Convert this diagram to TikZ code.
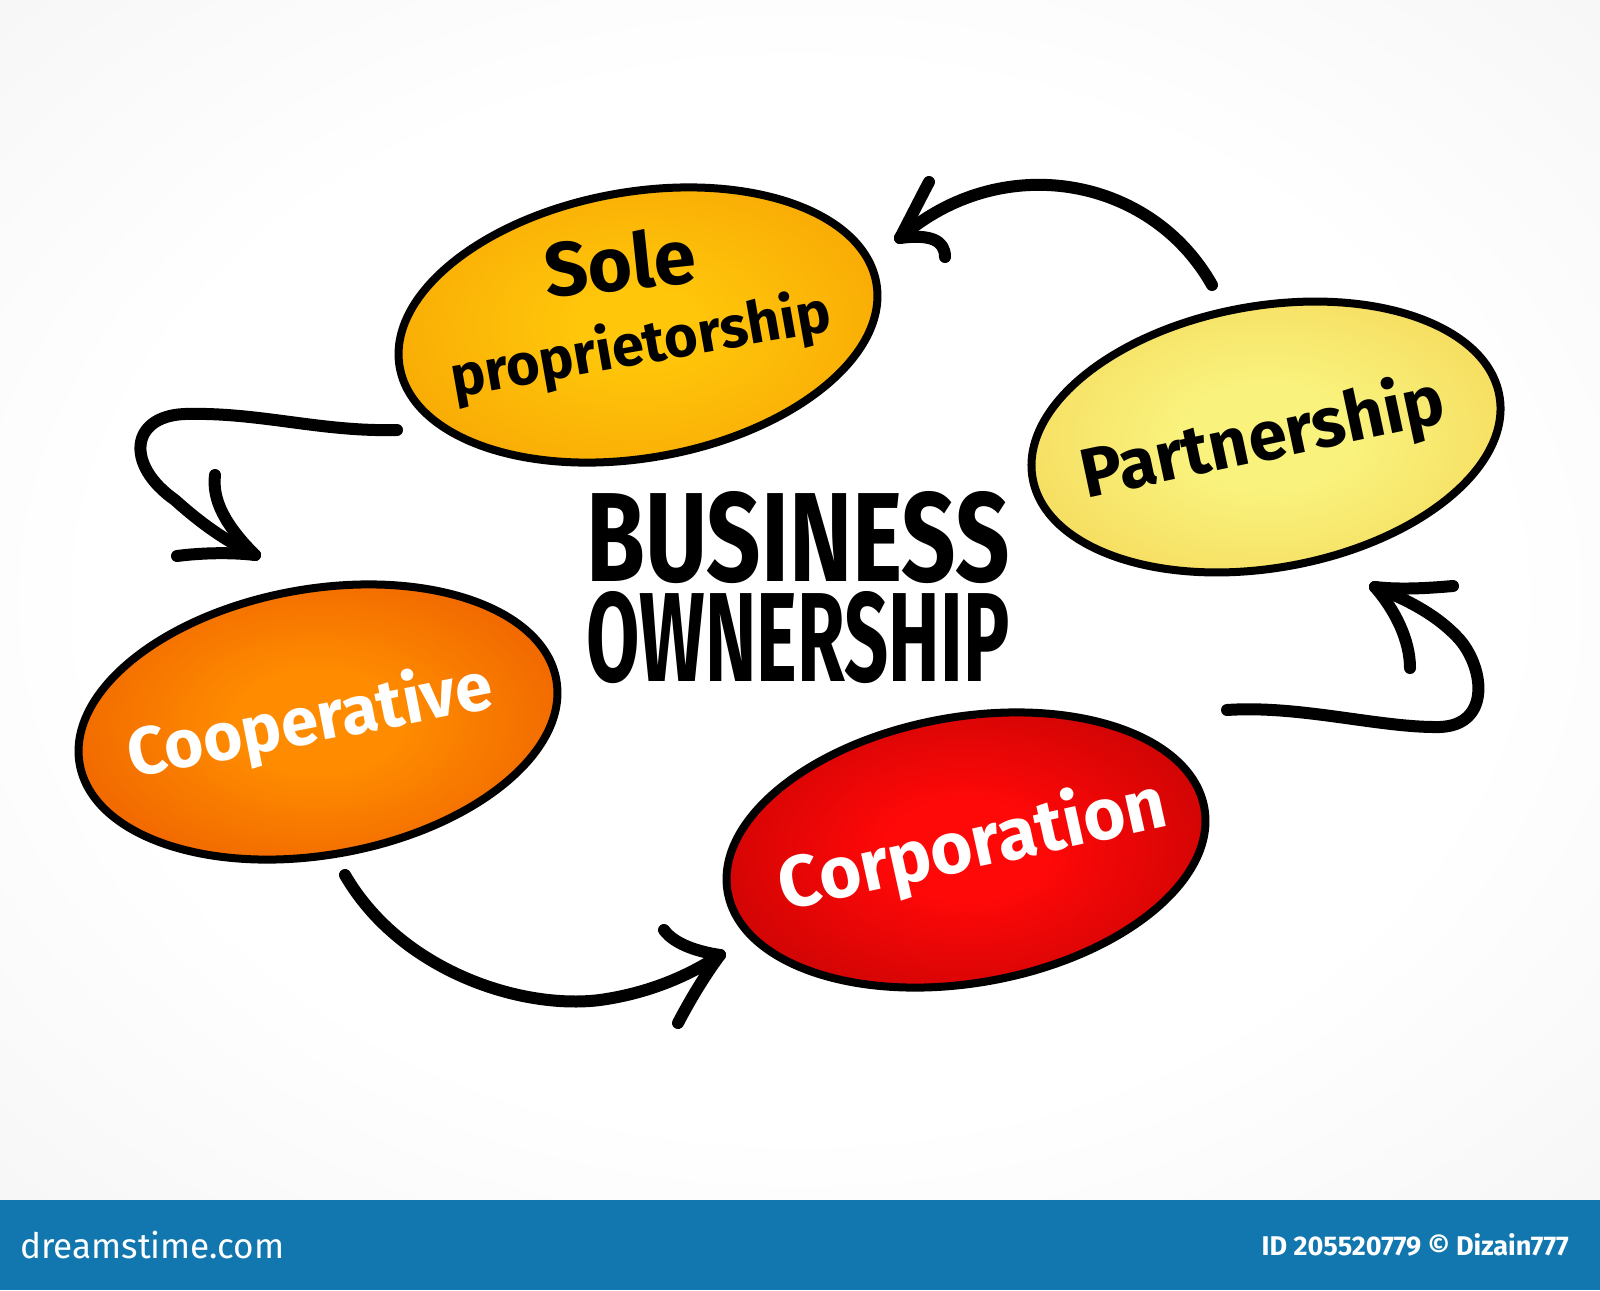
\documentclass[tikz,border=0pt]{standalone}
\usepackage{fontspec}
\setmainfont{Fira Sans}
\usetikzlibrary{shapes.geometric}
\definecolor{bgedge}{HTML}{D2D2D2}
\definecolor{barblue}{HTML}{1177AE}
\definecolor{soleIn}{HTML}{FFC60A}
\definecolor{soleOut}{HTML}{F39200}
\definecolor{partIn}{HTML}{F9F37E}
\definecolor{partOut}{HTML}{F3C640}
\definecolor{coopIn}{HTML}{FF8C00}
\definecolor{coopOut}{HTML}{E03E00}
\definecolor{corpIn}{HTML}{FF0808}
\definecolor{corpOut}{HTML}{9A0000}
\pgfdeclareradialshading{bgshade}{\pgfpoint{0bp}{0bp}}{color(0bp)=(white); color(22bp)=(white); color(95bp)=(bgedge); color(100bp)=(bgedge)}
\pgfdeclareradialshading{soleshade}{\pgfpoint{0bp}{0bp}}{color(0bp)=(soleIn); color(6bp)=(soleIn); color(45bp)=(soleOut); color(50bp)=(soleOut)}
\pgfdeclareradialshading{partshade}{\pgfpoint{0bp}{0bp}}{color(0bp)=(partIn); color(8bp)=(partIn); color(46bp)=(partOut); color(50bp)=(partOut)}
\pgfdeclareradialshading{coopshade}{\pgfpoint{0bp}{0bp}}{color(0bp)=(coopIn); color(8bp)=(coopIn); color(46bp)=(coopOut); color(50bp)=(coopOut)}
\pgfdeclareradialshading{corpshade}{\pgfpoint{0bp}{0bp}}{color(0bp)=(corpIn); color(8bp)=(corpIn); color(46bp)=(corpOut); color(50bp)=(corpOut)}
\tikzset{
  blob/.style={ellipse, draw=black, line width=8pt, minimum width=484pt, minimum height=266pt, inner sep=0pt},
  txt/.style={inner sep=0pt, font=\bfseries},
  arrowline/.style={line width=12pt, line cap=round, line join=round},
}
\begin{document}
\begin{tikzpicture}[x=1pt, y=-1pt]
\useasboundingbox (0,0) rectangle (1600,1290);
\shade[shading=bgshade] (0,0) rectangle (1600,1200);
\fill[barblue] (0,1200) rectangle (1600,1290);

% ellipses
\node[blob, rotate=10, shading=soleshade] (sole) at (638,325) {};
\node[blob, rotate=10, minimum width=474pt, minimum height=262pt, shading=partshade] (part) at (1266,437) {};
\node[blob, rotate=10, shading=coopshade] (coop) at (318,722) {};
\node[blob, rotate=10, shading=corpshade] (corp) at (966,850) {};

% texts
\node[txt, rotate=6] (soleA) at (620,262) {\resizebox{152pt}{!}{Sole}};
\node[txt, rotate=10] (soleB) at (641,347) {\resizebox{385pt}{!}{proprietorship}};
\node[txt, rotate=12] (partT) at (1263,440) {\resizebox{370pt}{!}{Partnership}};
\node[txt, rotate=11, text=white] (coopT) at (310,723) {\resizebox{370pt}{!}{Cooperative}};
\node[txt, rotate=12.5, text=white] (corpT) at (973,847) {\resizebox{395pt}{!}{Corporation}};

\node[txt] (title1) at (798,538) {\resizebox{423pt}{90pt}{BUSINESS}};
\node[txt] (title2) at (798,638) {\resizebox{423pt}{90pt}{OWNERSHIP}};

% arrow end points
\coordinate (a1s) at (1212,285);
\coordinate (a1t) at (900,238);
\coordinate (a2s) at (397,430);
\coordinate (a2t) at (255,555);
\coordinate (a3s) at (345,875);
\coordinate (a3t) at (720,955);
\coordinate (a4s) at (1227,710);
\coordinate (a4t) at (1375,587);

% arrow 1: partnership -> sole
\draw[arrowline] (a1s) .. controls (1150,175) and (1000,150) .. (a1t);
\draw[arrowline] (a1t) .. controls (912,215) and (922,195) .. (929,182);
\draw[arrowline] (a1t) .. controls (930,234) and (945,240) .. (945,257);

% arrow 2: sole -> cooperative
\draw[arrowline] (a2s) .. controls (320,432) and (260,412) .. (185,414)
  .. controls (130,416) and (125,465) .. (175,500)
  .. controls (205,527) and (230,543) .. (a2t);
\draw[arrowline] (a2t) .. controls (225,525) and (212,500) .. (215,475);
\draw[arrowline] (a2t) .. controls (230,552) and (200,553) .. (177,556);

% arrow 3: cooperative -> corporation
\draw[arrowline] (a3s) .. controls (400,970) and (520,1010) .. (600,1000)
  .. controls (650,993) and (690,975) .. (a3t);
\draw[arrowline] (a3t) .. controls (700,952) and (675,945) .. (664,930);
\draw[arrowline] (a3t) .. controls (705,975) and (690,1000) .. (678,1023);

% arrow 4: corporation -> partnership
\draw[arrowline] (a4s) .. controls (1300,705) and (1380,728) .. (1440,727)
  .. controls (1490,725) and (1485,670) .. (1460,640)
  .. controls (1435,612) and (1400,597) .. (a4t);
\draw[arrowline] (a4t) .. controls (1400,590) and (1430,588) .. (1453,586);
\draw[arrowline] (a4t) .. controls (1395,610) and (1410,640) .. (1410,668);

% footer
\node[anchor=west, text=white, inner sep=0pt] (logo) at (20,1245) {\resizebox{264pt}{!}{dreamstime.com}};
\node[anchor=east, text=white, inner sep=0pt] (credit) at (1569,1245) {\resizebox{307pt}{!}{\bfseries ID 205520779 © Dizain777}};
\end{tikzpicture}
\end{document}
